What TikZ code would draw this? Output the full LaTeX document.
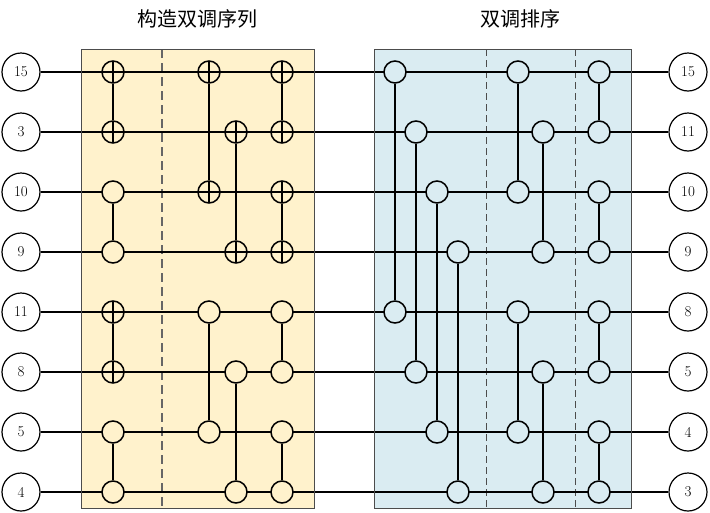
\documentclass[tikz,border=0pt]{standalone}
\usepackage{fontspec}
\newfontfamily\cjk{Noto Sans CJK SC}
\begin{document}
\begin{tikzpicture}[x=1pt,y=-1pt,
  io/.style={circle,draw,line width=1.2pt,minimum size=38pt,inner sep=0pt,fill=white,font=\fontsize{15}{17}\selectfont},
  wire/.style={line width=1.5pt},
  link/.style={line width=1.5pt},
  cmp/.style={circle,draw,line width=1.5pt,minimum size=22pt,inner sep=0pt},
  cmpplus/.style={cmp,path picture={\draw[line width=1.3pt] (path picture bounding box.north)--(path picture bounding box.south) (path picture bounding box.west)--(path picture bounding box.east);}},
  panel/.style={draw=black!70,line width=0.8pt},
  sep/.style={draw=black!60,line width=1.2pt,dash pattern=on 9pt off 5pt}]
\useasboundingbox (0,0) rectangle (710,512);
\definecolor{lbg}{RGB}{255,242,204}
\definecolor{rbg}{RGB}{218,236,242}
\fill[lbg] (81,49) rectangle (314,508);
\fill[rbg] (374,49) rectangle (631,508);
\draw[sep] (162,49)--(162,508);
\draw[draw=black!70,dash pattern=on 7pt off 4pt,line width=0.8pt] (486,49)--(486,508) (575,49)--(575,508);
\node[font=\cjk\fontsize{20}{23}\selectfont] (t1) at (197,19) {构造双调序列};
\node[font=\cjk\fontsize{20}{23}\selectfont] (t2) at (520,19) {双调排序};
\foreach \i/\a/\b in {0/15/15,1/3/11,2/10/10,3/9/9,4/11/8,5/8/5,6/5/4,7/4/3}{
  \pgfmathsetmacro\yy{72+60*\i}
  \node[io] (L\i) at (21,\yy) {\a};
  \node[io] (R\i) at (688,\yy) {\b};
  \draw[wire] (L\i)--(R\i);
}
\draw[panel] (81,49) rectangle (314,508) (374,49) rectangle (631,508);
\foreach \x/\a/\b/\p/\c in {113/0/1/1/lbg,113/2/3/0/lbg,113/4/5/1/lbg,113/6/7/0/lbg,
  209/0/2/1/lbg,209/4/6/0/lbg,236/1/3/1/lbg,236/5/7/0/lbg,
  282/0/1/1/lbg,282/2/3/1/lbg,282/4/5/0/lbg,282/6/7/0/lbg,
  395/0/4/0/rbg,416/1/5/0/rbg,437/2/6/0/rbg,458/3/7/0/rbg,
  518/0/2/0/rbg,518/4/6/0/rbg,543/1/3/0/rbg,543/5/7/0/rbg,
  599/0/1/0/rbg,599/2/3/0/rbg,599/4/5/0/rbg,599/6/7/0/rbg}{
  \pgfmathsetmacro\ya{72+60*\a}
  \pgfmathsetmacro\yb{72+60*\b}
  \ifnum\p=1
    \node[cmpplus,fill=\c] (c\x a\a) at (\x,\ya) {};
    \node[cmpplus,fill=\c] (c\x b\b) at (\x,\yb) {};
  \else
    \node[cmp,fill=\c] (c\x a\a) at (\x,\ya) {};
    \node[cmp,fill=\c] (c\x b\b) at (\x,\yb) {};
  \fi
  \draw[link] (c\x a\a)--(c\x b\b);
}
\end{tikzpicture}
\end{document}
